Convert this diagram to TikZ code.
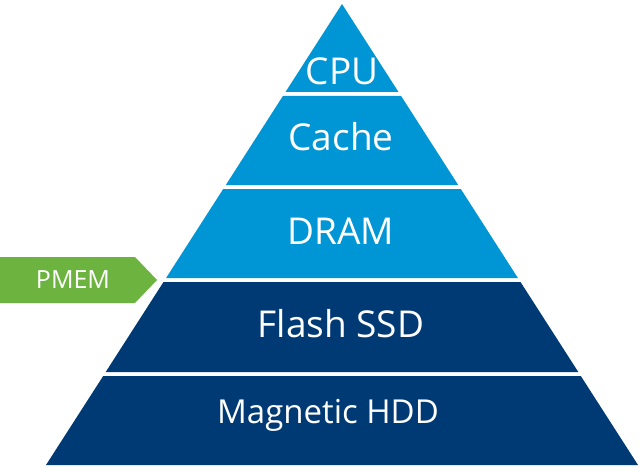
\documentclass[tikz,border=0pt]{standalone}
\usepackage{fontspec}
\setmainfont{Open Sans}
\definecolor{lb}{HTML}{0096D6}
\definecolor{db}{HTML}{003A75}
\definecolor{gr}{HTML}{6CB33F}
\begin{document}
\begin{tikzpicture}[x=1pt,y=-1pt,
  lbl/.style={text=white,font=\fontsize{37}{37}\selectfont}]
\useasboundingbox (0,0) rectangle (640,468);
\fill[lb] (342,4) -- (398.5,92) -- (285.5,92) -- cycle;
\fill[lb] (282.9,96) -- (401.1,96) -- (458.2,185) -- (225.8,185) -- cycle;
\fill[lb] (223.2,189) -- (460.8,189) -- (517.9,278) -- (166.1,278) -- cycle;
\fill[db] (163.5,282) -- (520.5,282) -- (578.3,372) -- (105.7,372) -- cycle;
\fill[db] (103.2,376) -- (580.8,376) -- (638,465) -- (46,465) -- cycle;
\node[lbl] (cpu) at (342,71) {CPU};
\node[lbl] (cache) at (341,137) {Cache};
\node[lbl] (dram) at (341,231) {DRAM};
\node[lbl] (flash) at (341,324) {Flash SSD};
\node[lbl,font=\fontsize{33}{33}\selectfont] (hdd) at (328,415) {Magnetic HDD};
\fill[gr] (0,257) -- (135,257) -- (157,280) -- (135,303) -- (0,303) -- cycle;
\node[text=white,font=\fontsize{25}{25}\selectfont] (pmem) at (73,280) {PMEM};
\end{tikzpicture}
\end{document}
